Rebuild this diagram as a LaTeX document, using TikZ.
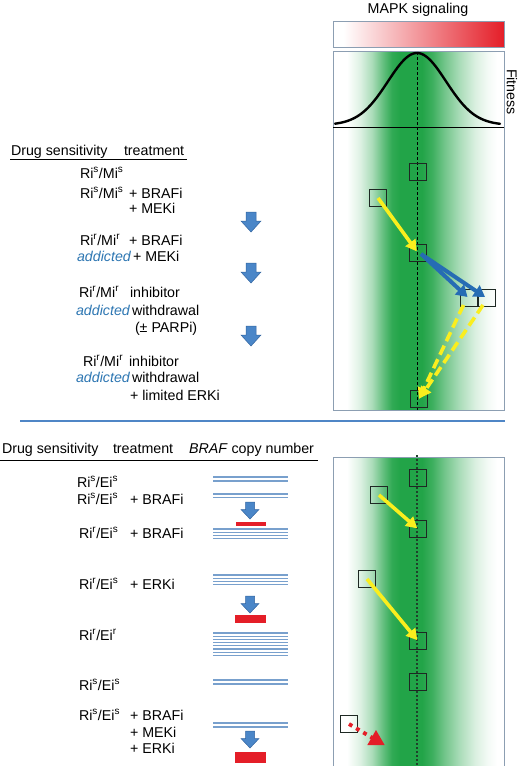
\documentclass[tikz,border=0pt]{standalone}
\usepackage{fontspec}
\setmainfont{Liberation Sans}
\usetikzlibrary{shapes.geometric,arrows.meta,calc}
\definecolor{fgreen}{RGB}{34,164,72}
\definecolor{mred}{RGB}{228,30,40}
\definecolor{panelc}{RGB}{140,158,178}
\definecolor{sqc}{RGB}{30,40,35}
\definecolor{ayellow}{RGB}{250,238,30}
\definecolor{abluearr}{RGB}{38,108,180}
\definecolor{blockblue}{RGB}{74,134,200}
\definecolor{blockdark}{RGB}{50,100,160}
\definecolor{cnline}{RGB}{120,160,205}
\definecolor{sepblue}{RGB}{79,134,198}
\definecolor{addc}{RGB}{45,118,178}
\newcommand{\supx}[1]{\textsuperscript{#1}}
\newcommand{\addx}{\textcolor{addc}{\itshape addicted}}
\pgfdeclarehorizontalshading{gband}{100bp}{%
  color(0bp)=(white); color(29.1bp)=(white);
  color(32.9bp)=(fgreen!15); color(36.4bp)=(fgreen!38);
  color(39.6bp)=(fgreen!70); color(42.2bp)=(fgreen!93);
  color(44.6bp)=(fgreen); color(51bp)=(fgreen);
  color(54bp)=(fgreen!88); color(57.7bp)=(fgreen!63);
  color(62.1bp)=(fgreen!38); color(66.5bp)=(fgreen!17);
  color(70.3bp)=(fgreen!5); color(73bp)=(white); color(100bp)=(white)}
\pgfdeclarehorizontalshading{rband}{100bp}{%
  color(0bp)=(white); color(28bp)=(white); color(75bp)=(mred); color(100bp)=(mred)}
\begin{document}
\begin{tikzpicture}[x=1bp,y=-1bp,
  every node/.style={font=\fontsize{14.3}{16}\selectfont, inner sep=0pt, outer sep=0pt},
  txt/.style={anchor=base west},
  sq/.style={draw=sqc, line width=0.9bp, minimum size=17bp, inner sep=0pt},
  yarrow/.style={draw=ayellow, line width=3.6bp, -{Triangle[length=11bp,width=12bp]}},
  ydash/.style={yarrow, dash pattern=on 10bp off 5bp},
  barrow/.style={draw=abluearr, line width=4bp, -{Triangle[length=11bp,width=13bp]}},
  cn/.style={draw=cnline, line width=1.1bp},
  blockdown/.pic={\filldraw[fill=blockblue, draw=blockdark, line width=0.5bp]
     (-5,0) -- (5,0) -- (5,9) -- (10,9) -- (0,20) -- (-10,9) -- (-5,9) -- cycle;},
  blocksmall/.pic={\filldraw[fill=blockblue, draw=blockdark, line width=0.5bp]
     (-4.5,0) -- (4.5,0) -- (4.5,7.5) -- (9,7.5) -- (0,17) -- (-9,7.5) -- (-4.5,7.5) -- cycle;}
]
\useasboundingbox (0,0) rectangle (520,766);

% ---------- MAPK bar ----------
\node (mapk) at (418,13.5) [anchor=base] {MAPK signaling};
\shade[shading=rband] (333,22) rectangle (504,48);
\draw[panelc, line width=1bp] (333,22) rectangle (504,48);

% ---------- top panel ----------
\shade[shading=gband] (333,52) rectangle (504,410);
\draw[panelc, line width=1bp] (333,52) rectangle (504,410);
\draw[black, line width=0.7bp] (333,127) -- (504,127);
\draw[black, line width=0.6bp, dash pattern=on 3bp off 2bp] (417,52) -- (417,410);
\draw[black, line width=2.4bp, line cap=round, domain=335:500, samples=90, smooth]
  plot (\x, {125-72*exp(-((\x-417)^2)/1682)});
\node (fit) at (512,92) [rotate=-90] {Fitness};

\node[sq] (s1) at (418,172) {};
\node[sq] (s2) at (378,198) {};
\node[sq] (s3) at (418,253) {};
\node[sq] (s4) at (468.5,298) {};
\node[sq] (s5) at (487,298) {};
\node[sq] (s6) at (419,399) {};

\draw[yarrow, shorten >=2bp] (s2.center) -- (s3.center);
\draw[barrow] ($(s3.center)+(3,1)$) -- ($(s4.center)+(-1,-1)$);
\draw[barrow] ($(s3.center)+(3,1)$) -- ($(s5.center)+(-2,-1)$);
\draw[ydash] ($(s4.center)+(-5,7)$) -- (s6.center);
\draw[ydash] ($(s5.center)+(-4,7)$) -- ($(s6.center)+(1,-1)$);

% ---------- top left text ----------
\node[txt] (h1) at (11,155) {Drug sensitivity};
\node[txt] (h2) at (124,155) {treatment};
\draw[black, line width=0.8bp] (10,159.5) -- (187,159.5);

\node[txt] (a1) at (80,178) {Ri\supx{s}/Mi\supx{s}};
\node[txt] (a2) at (80,198) {Ri\supx{s}/Mi\supx{s}};
\node[txt] (a2b) at (129,198) {+ BRAFi};
\node[txt] (a3) at (129,213) {+ MEKi};
\node[txt] (a4) at (80,245) {Ri\supx{r}/Mi\supx{r}};
\node[txt] (a4b) at (129,245) {+ BRAFi};
\node[txt] (a5) at (77,261) {\addx};
\node[txt] (a5b) at (133,261) {+ MEKi};
\node[txt] (a6) at (79,297) {Ri\supx{r}/Mi\supx{r}};
\node[txt] (a6b) at (130,297) {inhibitor};
\node[txt] (a7) at (76,315) {\addx};
\node[txt] (a7b) at (132,315) {withdrawal};
\node[txt] (a8) at (135,332) {(± PARPi)};
\node[txt] (a9) at (83,366) {Ri\supx{r}/Mi\supx{r}};
\node[txt] (a9b) at (129,366) {inhibitor};
\node[txt] (a10) at (76,382) {\addx};
\node[txt] (a10b) at (132,382) {withdrawal};
\node[txt] (a11) at (130,400) {+ limited ERKi};

\pic at (251,212) {blockdown};
\pic at (251,263) {blockdown};
\pic at (251,326) {blockdown};

% separator
\draw[sepblue, line width=2bp] (20,421) -- (505,421);

% ---------- bottom panel ----------
\shade[shading=gband] (333,457) rectangle (504,766);
\draw[panelc, line width=1bp] (333,766) -- (333,457) -- (504,457) -- (504,766);
\draw[sqc!80!fgreen, line width=1.1bp, dash pattern=on 2bp off 2bp] (417,455) -- (417,766);

\node[sq] (b1) at (418,478) {};
\node[sq] (b2) at (379,495) {};
\node[sq] (b3) at (418,529) {};
\node[sq] (b4) at (367,579) {};
\node[sq] (b5) at (418,641) {};
\node[sq] (b6) at (418,682) {};
\node[sq] (b7) at (349,724) {};
\node[regular polygon, regular polygon sides=3, fill=mred, minimum size=20bp, inner sep=0pt] (tri) at (376,740) {};

\draw[yarrow, shorten >=1bp] (b2.center) -- (b3.center);
\draw[yarrow, shorten >=1bp] (b4.center) -- (b5.center);
\draw[mred, line width=3.8bp, dash pattern=on 3.8bp off 4.5bp] (b7.center) -- (tri.center);

% ---------- bottom left text ----------
\node[txt] (H1) at (2,453) {Drug sensitivity};
\node[txt] (H2) at (113,453) {treatment};
\node[txt] (H3) at (189,453) {\textit{BRAF} copy number};
\draw[black, line width=0.8bp] (0,460) -- (318,460);

\node[txt] (c1) at (77,487) {Ri\supx{s}/Ei\supx{s}};
\node[txt] (c2) at (77,504) {Ri\supx{s}/Ei\supx{s}};
\node[txt] (c2b) at (130,504) {+ BRAFi};
\node[txt] (c3) at (79,538) {Ri\supx{r}/Ei\supx{s}};
\node[txt] (c3b) at (130,538) {+ BRAFi};
\node[txt] (c4) at (79,589) {Ri\supx{r}/Ei\supx{s}};
\node[txt] (c4b) at (130,589) {+ ERKi};
\node[txt] (c5) at (79,640) {Ri\supx{r}/Ei\supx{r}};
\node[txt] (c6) at (79,690) {Ri\supx{s}/Ei\supx{s}};
\node[txt] (c7) at (79,720) {Ri\supx{s}/Ei\supx{s}};
\node[txt] (c7b) at (130,720) {+ BRAFi};
\node[txt] (c8) at (130,737) {+ MEKi};
\node[txt] (c9) at (130,753) {+ ERKi};

% ---------- copy number lines ----------
\foreach \yy in {477,481, 494,497.5} \draw[cn] (213,\yy) -- (288,\yy);
\foreach \i in {0,...,3} \draw[cn] (213,529+3.3*\i) -- (288,529+3.3*\i);
\foreach \i in {0,...,3} \draw[cn] (213,575+3.3*\i) -- (288,575+3.3*\i);
\foreach \i in {0,...,7} \draw[cn] (213,633+3.2*\i) -- (288,633+3.2*\i);
\foreach \yy in {680,684, 723,727} \draw[cn] (213,\yy) -- (288,\yy);

\pic at (250,502) {blocksmall};
\pic at (250,596) {blocksmall};
\pic at (250,731) {blocksmall};
\fill[mred] (236,522) rectangle (266,526);
\fill[mred] (235,615) rectangle (266,623);
\fill[mred] (235,752) rectangle (266,763);
\end{tikzpicture}
\end{document}
